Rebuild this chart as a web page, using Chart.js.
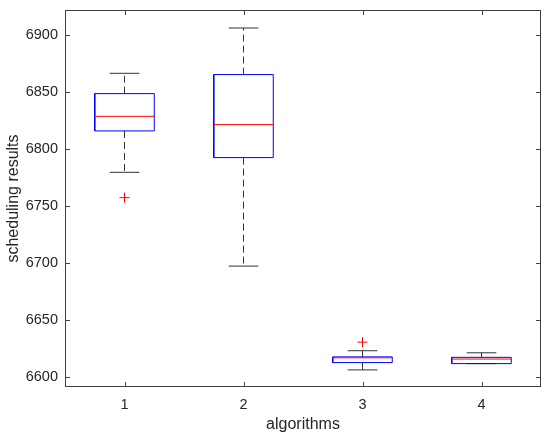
<!DOCTYPE html>
<html>
<head>
<meta charset="utf-8">
<script src="https://cdn.jsdelivr.net/npm/chart.js@4"></script>
<style>
  html, body { margin: 0; padding: 0; background: #fff; }
  canvas { display: block; }
</style>
</head>
<body>
<canvas id="chart" width="550" height="438"></canvas>
<script>
const categories = [1, 2, 3, 4];
const q1 = [6815.5, 6792.1, 6612.4, 6611.5];
const medians = [6828.3, 6821.0, 6616.6, 6615.5];
const q3 = [6848.2, 6864.9, 6617.4, 6617.0];
const whiskerLow = [6779.2, 6697.0, 6606.0, 6611.5];
const whiskerHigh = [6866.0, 6905.7, 6622.8, 6621.0];
const outliers = [[6757.0], [], [6630.3], []];
const yTicks = [6600, 6650, 6700, 6750, 6800, 6850, 6900];

const boxHalf = 0.25;
const capHalf = 0.125;
const gap = (x) => ({ x: x, y: null });

// build the point lists for each part of the boxes
let boxPts = [], medPts = [], whiskPts = [], capPts = [], outPts = [];
categories.forEach((c, i) => {
  boxPts.push({ x: c - boxHalf, y: q1[i] }, { x: c + boxHalf, y: q1[i] },
              { x: c + boxHalf, y: q3[i] }, { x: c - boxHalf, y: q3[i] },
              { x: c - boxHalf, y: q1[i] }, gap(c));
  medPts.push({ x: c - boxHalf, y: medians[i] }, { x: c + boxHalf, y: medians[i] }, gap(c));
  whiskPts.push({ x: c, y: q3[i] }, { x: c, y: whiskerHigh[i] }, gap(c),
                { x: c, y: q1[i] }, { x: c, y: whiskerLow[i] }, gap(c));
  capPts.push({ x: c - capHalf, y: whiskerHigh[i] }, { x: c + capHalf, y: whiskerHigh[i] }, gap(c),
              { x: c - capHalf, y: whiskerLow[i] }, { x: c + capHalf, y: whiskerLow[i] }, gap(c));
  outliers[i].forEach(v => outPts.push({ x: c, y: v }));
});

const axisColor = '#262626';
const fontFamily = '"Liberation Sans", Arial, Helvetica, sans-serif';

// frame around the plot with inward ticks on all four sides
const framePlugin = {
  id: 'frame',
  afterDraw(chart) {
    const { ctx, chartArea: a, scales } = chart;
    const len = 5;
    ctx.save();
    ctx.strokeStyle = '#404040';
    ctx.lineWidth = 1;
    ctx.strokeRect(a.left + 0.5, a.top + 0.5, a.right - a.left - 1, a.bottom - a.top - 1);
    ctx.beginPath();
    scales.x.ticks.forEach(t => {
      const px = Math.round(scales.x.getPixelForValue(t.value)) + 0.5;
      ctx.moveTo(px, a.bottom); ctx.lineTo(px, a.bottom - len);
      ctx.moveTo(px, a.top); ctx.lineTo(px, a.top + len);
    });
    scales.y.ticks.forEach(t => {
      const py = Math.round(scales.y.getPixelForValue(t.value)) + 0.5;
      ctx.moveTo(a.left, py); ctx.lineTo(a.left + len, py);
      ctx.moveTo(a.right, py); ctx.lineTo(a.right - len, py);
    });
    ctx.stroke();
    ctx.restore();
  }
};

new Chart(document.getElementById('chart'), {
  type: 'scatter',
  data: {
    datasets: [
      { label: 'outliers', data: outPts, showLine: false, pointStyle: 'cross',
        pointRadius: 5, pointBorderColor: '#ff0000', pointBorderWidth: 1, order: 0 },
      { label: 'median', data: medPts, showLine: true, borderColor: '#ff0000',
        borderWidth: 1, pointRadius: 0, order: 1 },
      { label: 'box', data: boxPts, showLine: true, borderColor: '#0000ff',
        borderWidth: 1, pointRadius: 0, order: 2 },
      { label: 'caps', data: capPts, showLine: true, borderColor: '#333333',
        borderWidth: 1, pointRadius: 0, order: 3 },
      { label: 'whiskers', data: whiskPts, showLine: true, borderColor: '#333333',
        borderWidth: 1, borderDash: [7, 4], pointRadius: 0, order: 4 }
    ]
  },
  options: {
    responsive: false,
    animation: false,
    layout: { padding: { top: 10, right: 9, left: 0, bottom: 0 } },
    plugins: {
      legend: { display: false },
      tooltip: { enabled: false }
    },
    scales: {
      x: {
        type: 'linear',
        min: 0.5,
        max: 4.5,
        afterBuildTicks: (s) => { s.ticks = categories.map(v => ({ value: v })); },
        afterFit: (s) => { s.height = 51; s.paddingLeft = 0; s.paddingRight = 0; },
        grid: { display: false, drawTicks: false },
        border: { display: false },
        ticks: { color: axisColor, padding: 9, callback: (v) => String(v),
                 font: { family: fontFamily, size: 14.5 } },
        title: { display: true, text: 'algorithms', color: axisColor,
                 padding: { top: 0, bottom: 4 }, font: { family: fontFamily, size: 16 } }
      },
      y: {
        type: 'linear',
        min: 6591,
        max: 6921.5,
        afterBuildTicks: (s) => { s.ticks = yTicks.map(v => ({ value: v })); },
        afterFit: (s) => { s.width = 65; s.paddingTop = 0; s.paddingBottom = 0; },
        grid: { display: false, drawTicks: false },
        border: { display: false },
        ticks: { color: axisColor, padding: 7, callback: (v) => String(v),
                 font: { family: fontFamily, size: 14.5 } },
        title: { display: true, text: 'scheduling results', color: axisColor,
                 padding: { top: 4, bottom: 0 }, font: { family: fontFamily, size: 16 } }
      }
    }
  },
  plugins: [framePlugin]
});
</script>
</body>
</html>
